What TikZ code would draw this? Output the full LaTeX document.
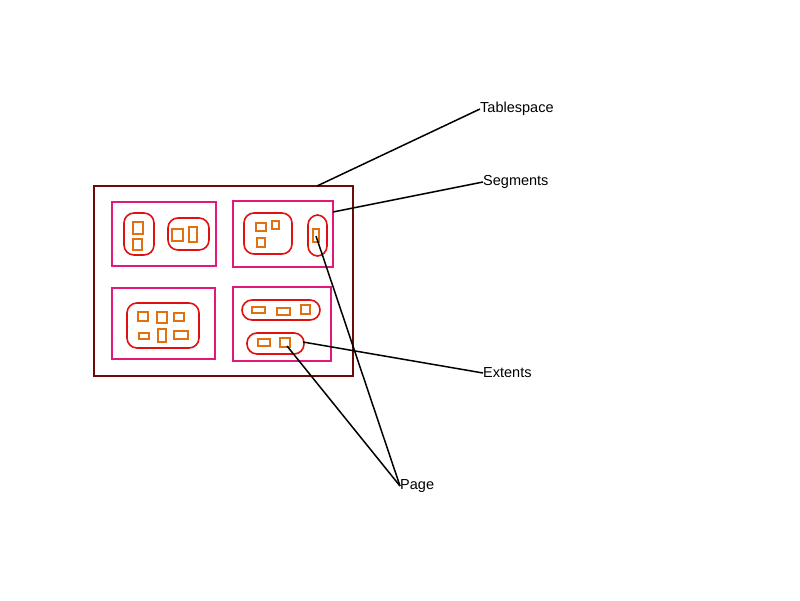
\documentclass[tikz,border=0pt]{standalone}
\usepackage{fontspec}
\setmainfont{Liberation Sans}
\begin{document}
\begin{tikzpicture}[x=1pt,y=-1pt,
  ts/.style={draw=tsc,line width=1.6pt},
  seg/.style={draw=segc,line width=1.6pt},
  ext/.style={draw=extc,line width=1.6pt,rounded corners=10pt},
  pg/.style={draw=pgc,line width=1.6pt},
  lead/.style={draw=black,line width=1.5pt},
  lbl/.style={anchor=west,inner sep=0pt,font=\fontsize{14.5}{17}\selectfont}]
\definecolor{tsc}{HTML}{6E0A0A}
\definecolor{segc}{HTML}{E0197A}
\definecolor{extc}{HTML}{E01010}
\definecolor{pgc}{HTML}{E07010}
\useasboundingbox (0,0) rectangle (800,600);
% tablespace
\draw[ts] (94,186) rectangle (353,376);
% segments
\draw[seg] (112,202) rectangle (216,266);
\draw[seg] (233,201) rectangle (333,267);
\draw[seg] (112,288) rectangle (215,359);
\draw[seg] (233,287) rectangle (331,361);
% extents
\draw[ext] (124,213) rectangle (154,255);
\draw[ext] (168,218) rectangle (209,250);
\draw[ext] (244,213) rectangle (292,254);
\draw[ext] (308,215) rectangle (327,256);
\draw[ext] (127,303) rectangle (199,348);
\draw[ext] (242,300) rectangle (320,320);
\draw[ext] (247,333) rectangle (304,354);
% pages
\draw[pg] (133,222) rectangle (143,234);
\draw[pg] (133,239) rectangle (142,250);
\draw[pg] (172,229) rectangle (183,241);
\draw[pg] (189,227) rectangle (197,242);
\draw[pg] (256,223) rectangle (266,231);
\draw[pg] (272,221) rectangle (279,229);
\draw[pg] (257,238) rectangle (265,247);
\draw[pg] (313,229) rectangle (319,242);
\draw[pg] (138,312) rectangle (148,321);
\draw[pg] (157,312) rectangle (167,323);
\draw[pg] (174,313) rectangle (184,321);
\draw[pg] (139,333) rectangle (149,339);
\draw[pg] (158,329) rectangle (166,342);
\draw[pg] (174,331) rectangle (188,339);
\draw[pg] (252,307) rectangle (265,313);
\draw[pg] (277,308) rectangle (290,315);
\draw[pg] (301,305) rectangle (310,314);
\draw[pg] (258,339) rectangle (270,346);
\draw[pg] (280,338) rectangle (290,347);
% anchor points
\coordinate (tsTop) at (317,186);
\coordinate (segEdge) at (333,212);
\coordinate (extEdge) at (303,342);
\coordinate (pgA) at (316,236);
\coordinate (pgB) at (287,346);
% labels
\node[lbl] (lts) at (480,109) {Tablespace};
\node[lbl] (lseg) at (483,182) {Segments};
\node[lbl] (lext) at (483,373) {Extents};
\node[lbl] (lpg) at (400,486) {Page};
% leaders
\draw[lead] (tsTop) -- (lts.west);
\draw[lead] (segEdge) -- (lseg.west);
\draw[lead] (extEdge) -- (lext.west);
\draw[lead] (pgA) -- (lpg.west);
\draw[lead] (pgB) -- (lpg.west);
\end{tikzpicture}
\end{document}
